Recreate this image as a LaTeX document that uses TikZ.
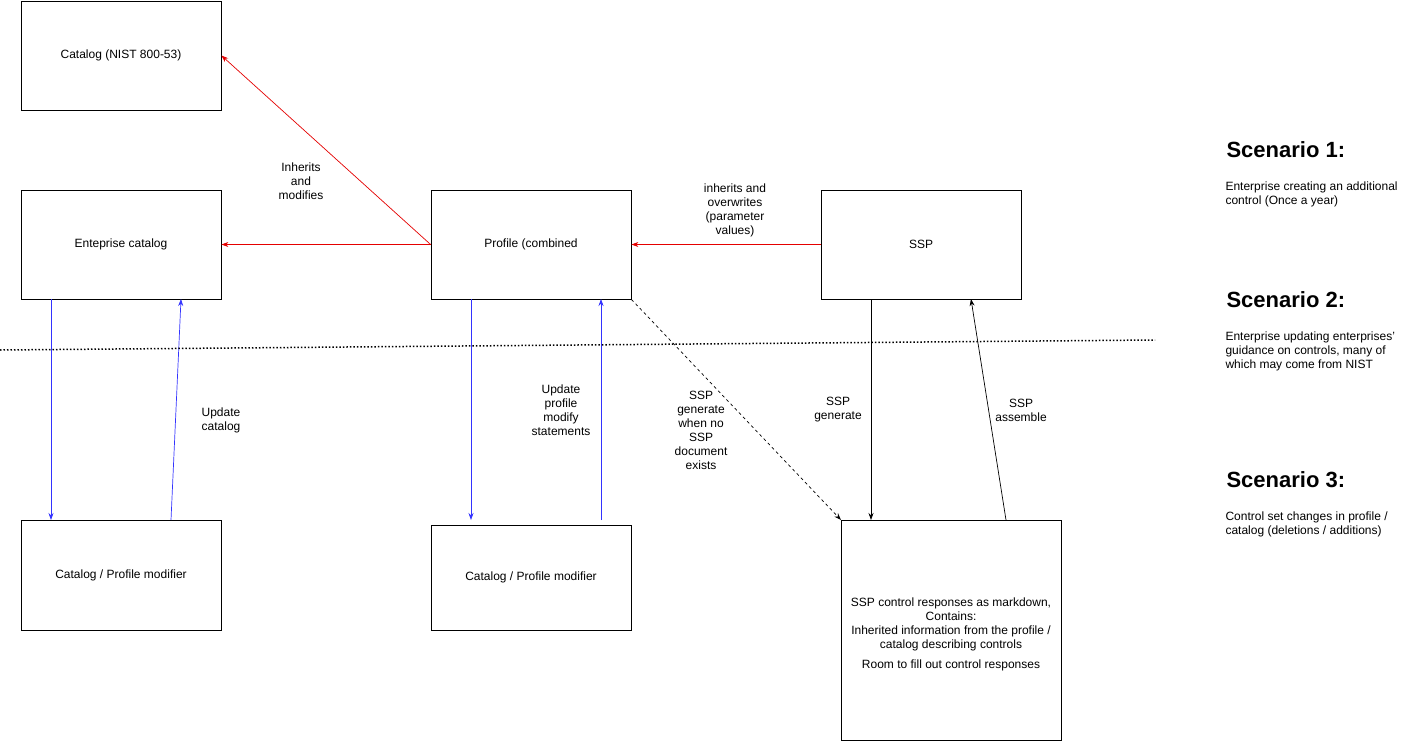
\documentclass[tikz,border=0pt]{standalone}
\usepackage{fontspec}
\setmainfont{Liberation Sans}
\usetikzlibrary{arrows.meta}
\begin{document}
\begin{tikzpicture}[x=1pt,y=-1pt,
  box/.style={draw,line width=0.8pt,align=center,font=\fontsize{12}{14}\selectfont},
  lbl/.style={align=center,font=\fontsize{12}{14}\selectfont},
  small/.style={align=left,anchor=north west,font=\fontsize{12}{14}\selectfont},
  head/.style={anchor=west,font=\fontsize{22}{24}\selectfont\bfseries},
  arr/.style={-{Stealth[length=7pt,width=5pt]},line width=0.7pt},
  red/.style={draw=red!90!black},
  blu/.style={draw=blue!80}]
\useasboundingbox (0,0) rectangle (1412,741);
\fill[white] (0,0) rectangle (1412,741);
\node[box,minimum width=200pt,minimum height=109pt] (nist) at (121,55.5) {Catalog (NIST 800-53)};
\node[box,minimum width=200pt,minimum height=109pt] (ent) at (121,244.5) {Enteprise catalog};
\node[box,minimum width=200pt,minimum height=109pt] (prof) at (531,244.5) {Profile (combined};
\node[box,minimum width=200pt,minimum height=109pt] (ssp) at (921,244.5) {SSP};
\node[box,minimum width=200pt,minimum height=110pt] (mod1) at (121,575) {Catalog / Profile modifier};
\node[box,minimum width=200pt,minimum height=105pt] (mod2) at (531,577.5) {Catalog / Profile modifier};
\node[box,minimum width=220pt,minimum height=220pt] (sspc) at (951,630) {};
\node[lbl] at (951,634) {SSP control responses as markdown,\\Contains:\\Inherited information from the profile /\\catalog describing controls\\[6pt]Room to fill out control responses};
\draw[arr,red] (prof.west) -- (nist.east);
\draw[arr,red] (prof.west) -- (ent.east);
\draw[arr,red] (ssp.west) -- (prof.east);
\node[lbl] at (301,181) {Inherits\\and\\modifies};
\node[lbl] at (735,210) {inherits and\\overwrites\\(parameter\\values)};
\coordinate (a1) at (51,299); \coordinate (a2) at (51,520);
\draw[arr,blu] (a1) -- (a2);
\coordinate (b1) at (171,520); \coordinate (b2) at (181,299);
\draw[arr,blu] (b1) -- (b2);
\coordinate (c1) at (471,299); \coordinate (c2) at (471,520);
\draw[arr,blu] (c1) -- (c2);
\coordinate (d1) at (601,520); \coordinate (d2) at (601,299);
\draw[arr,blu] (d1) -- (d2);
\coordinate (e2) at (841,520);
\draw[arr,dashed] (prof.south east) -- (e2);
\coordinate (f1) at (871,299); \coordinate (f2) at (871,520);
\draw[arr] (f1) -- (f2);
\coordinate (g1) at (1006,520); \coordinate (g2) at (971,299);
\draw[arr] (g1) -- (g2);
\coordinate (h1) at (0,350); \coordinate (h2) at (1155,340);
\draw[dotted,line width=1.5pt] (h1) -- (h2);
\node[lbl] at (221,420) {Update\\catalog};
\node[lbl] at (561,410) {Update\\profile\\modify\\statements};
\node[lbl] at (701,430) {SSP\\generate\\when no\\SSP\\document\\exists};
\node[lbl] at (838,410) {SSP\\generate};
\node[lbl] at (1021,410) {SSP\\assemble};
\node[head] at (1223,150) {Scenario 1:};
\node[small] at (1222,178) {Enterprise creating an additional\\control (Once a year)};
\node[head] at (1223,300) {Scenario 2:};
\node[small] at (1222,328) {Enterprise updating enterprises'\\guidance on controls, many of\\which may come from NIST};
\node[head] at (1223,480) {Scenario 3:};
\node[small] at (1222,508) {Control set changes in profile /\\catalog (deletions / additions)};
\end{tikzpicture}
\end{document}
